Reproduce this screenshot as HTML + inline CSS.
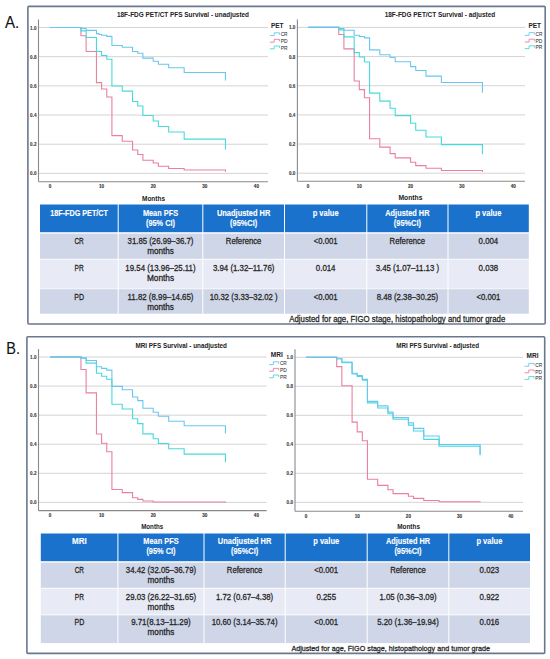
<!DOCTYPE html><html><head><meta charset="utf-8"><style>html,body{margin:0;padding:0;background:#fff;width:550px;height:659px;overflow:hidden}svg{display:block}</style></head><body>
<svg width="550" height="659" viewBox="0 0 550 659" font-family='"Liberation Sans", sans-serif'>
<rect width="550" height="659" fill="#fff"/>
<rect x="27.9" y="6.4" width="517.3" height="317.6" fill="none" stroke="#68788f" stroke-width="1.6" rx="1"/>
<rect x="26.9" y="336.8" width="517.8" height="316.6" fill="none" stroke="#68788f" stroke-width="1.6" rx="1"/>
<text x="4.9" y="27.8" font-size="15.76" fill="#111" stroke="#111" stroke-width="0.12" text-anchor="start" textLength="14.3" lengthAdjust="spacingAndGlyphs">A.</text>
<text x="6.3" y="354.2" font-size="15.76" fill="#111" stroke="#111" stroke-width="0.12" text-anchor="start" textLength="13.7" lengthAdjust="spacingAndGlyphs">B.</text>
<line x1="38.5" y1="173.4" x2="268" y2="173.4" stroke="#d4d4d4" stroke-width="1"/>
<text x="36.5" y="175.4" font-size="4.6" font-weight="bold" fill="#444" stroke="#444" stroke-width="0.12" text-anchor="end">0.0</text>
<line x1="38.5" y1="144.22" x2="268" y2="144.22" stroke="#d4d4d4" stroke-width="1"/>
<text x="36.5" y="146.22" font-size="4.6" font-weight="bold" fill="#444" stroke="#444" stroke-width="0.12" text-anchor="end">0.2</text>
<line x1="38.5" y1="115.04" x2="268" y2="115.04" stroke="#d4d4d4" stroke-width="1"/>
<text x="36.5" y="117.04" font-size="4.6" font-weight="bold" fill="#444" stroke="#444" stroke-width="0.12" text-anchor="end">0.4</text>
<line x1="38.5" y1="85.86" x2="268" y2="85.86" stroke="#d4d4d4" stroke-width="1"/>
<text x="36.5" y="87.86" font-size="4.6" font-weight="bold" fill="#444" stroke="#444" stroke-width="0.12" text-anchor="end">0.6</text>
<line x1="38.5" y1="56.68" x2="268" y2="56.68" stroke="#d4d4d4" stroke-width="1"/>
<text x="36.5" y="58.68" font-size="4.6" font-weight="bold" fill="#444" stroke="#444" stroke-width="0.12" text-anchor="end">0.8</text>
<line x1="38.5" y1="27.5" x2="268" y2="27.5" stroke="#d4d4d4" stroke-width="1"/>
<text x="36.5" y="29.5" font-size="4.6" font-weight="bold" fill="#444" stroke="#444" stroke-width="0.12" text-anchor="end">1.0</text>
<line x1="38.5" y1="19.5" x2="38.5" y2="181.7" stroke="#8a8a8a" stroke-width="1.1"/>
<line x1="38.5" y1="181.7" x2="268" y2="181.7" stroke="#8a8a8a" stroke-width="1.1"/>
<text x="50" y="188.3" font-size="4.6" font-weight="bold" fill="#3a3a3a" stroke="#3a3a3a" stroke-width="0.12" text-anchor="middle">0</text>
<text x="101.6" y="188.3" font-size="4.6" font-weight="bold" fill="#3a3a3a" stroke="#3a3a3a" stroke-width="0.12" text-anchor="middle">10</text>
<text x="153.2" y="188.3" font-size="4.6" font-weight="bold" fill="#3a3a3a" stroke="#3a3a3a" stroke-width="0.12" text-anchor="middle">20</text>
<text x="204.8" y="188.3" font-size="4.6" font-weight="bold" fill="#3a3a3a" stroke="#3a3a3a" stroke-width="0.12" text-anchor="middle">30</text>
<text x="256.4" y="188.3" font-size="4.6" font-weight="bold" fill="#3a3a3a" stroke="#3a3a3a" stroke-width="0.12" text-anchor="middle">40</text>
<text x="117" y="17.2" font-size="6.6" font-weight="bold" fill="#222" textLength="132" lengthAdjust="spacingAndGlyphs">18F-FDG PET/CT PFS Survival - unadjusted</text>
<text x="142" y="200.5" font-size="6.9" font-weight="bold" fill="#222" textLength="23" lengthAdjust="spacingAndGlyphs">Months</text>
<path d="M50,27.5 H80.96 V35.82 H86.12 V51.57 H96.44 V82.65 H99.02 V82.65 H101.6 V89.07 H106.76 V96.95 H111.92 V135.61 H122.24 V141.3 H132.56 V150.06 H137.72 V154.43 H142.88 V160.27 H153.2 V163.04 H158.36 V166.25 H168.68 V168.44 H184.16 V170.04 H225.44 V171.8" fill="none" stroke="#e9809f" stroke-width="1.1"/>
<path d="M50,27.5 H80.96 V30.86 H86.12 V37.57 H96.44 V51.57 H99.02 V51.57 H101.6 V55.51 H106.76 V59.31 H111.92 V86.01 H122.24 V91.11 H132.56 V101.47 H137.72 V105.99 H142.88 V115.48 H153.2 V121.02 H158.36 V126.57 H168.68 V131.96 H184.16 V139.11 H225.44 V149.47" fill="none" stroke="#48dada" stroke-width="1.1"/>
<path d="M50,27.5 H80.96 V28.52 H86.12 V30.42 H96.44 V33.63 H99.02 V34.5 H101.6 V35.23 H106.76 V36.4 H111.92 V45.45 H122.24 V47.2 H132.56 V51.43 H137.72 V53.32 H142.88 V58.14 H153.2 V61.2 H158.36 V64.27 H168.68 V67.77 H184.16 V72.44 H225.44 V80.46" fill="none" stroke="#68c7f1" stroke-width="1.1"/>
<text x="270.9" y="27.8" font-size="6.5" font-weight="bold" fill="#222">PET</text>
<path d="M269.9,35.6 H274.2 V32.8 H279.5 V34.7" fill="none" stroke="#68c7f1" stroke-width="0.9"/>
<text x="280.7" y="36.4" font-size="5.9" fill="#444" stroke="#444" stroke-width="0.1" textLength="6.8" lengthAdjust="spacingAndGlyphs">CR</text>
<path d="M269.9,42.2 H274.2 V39.4 H279.5 V41.3" fill="none" stroke="#e9809f" stroke-width="0.9"/>
<text x="280.7" y="43" font-size="5.9" fill="#444" stroke="#444" stroke-width="0.1" textLength="6.8" lengthAdjust="spacingAndGlyphs">PD</text>
<path d="M269.9,48.8 H274.2 V46 H279.5 V47.9" fill="none" stroke="#48dada" stroke-width="0.9"/>
<text x="280.7" y="49.6" font-size="5.9" fill="#444" stroke="#444" stroke-width="0.1" textLength="6.8" lengthAdjust="spacingAndGlyphs">PR</text>
<line x1="297.4" y1="173.2" x2="525" y2="173.2" stroke="#d4d4d4" stroke-width="1"/>
<text x="295.4" y="175.2" font-size="4.6" font-weight="bold" fill="#444" stroke="#444" stroke-width="0.12" text-anchor="end">0.0</text>
<line x1="297.4" y1="144.04" x2="525" y2="144.04" stroke="#d4d4d4" stroke-width="1"/>
<text x="295.4" y="146.04" font-size="4.6" font-weight="bold" fill="#444" stroke="#444" stroke-width="0.12" text-anchor="end">0.2</text>
<line x1="297.4" y1="114.88" x2="525" y2="114.88" stroke="#d4d4d4" stroke-width="1"/>
<text x="295.4" y="116.88" font-size="4.6" font-weight="bold" fill="#444" stroke="#444" stroke-width="0.12" text-anchor="end">0.4</text>
<line x1="297.4" y1="85.72" x2="525" y2="85.72" stroke="#d4d4d4" stroke-width="1"/>
<text x="295.4" y="87.72" font-size="4.6" font-weight="bold" fill="#444" stroke="#444" stroke-width="0.12" text-anchor="end">0.6</text>
<line x1="297.4" y1="56.56" x2="525" y2="56.56" stroke="#d4d4d4" stroke-width="1"/>
<text x="295.4" y="58.56" font-size="4.6" font-weight="bold" fill="#444" stroke="#444" stroke-width="0.12" text-anchor="end">0.8</text>
<line x1="297.4" y1="27.4" x2="525" y2="27.4" stroke="#d4d4d4" stroke-width="1"/>
<text x="295.4" y="29.4" font-size="4.6" font-weight="bold" fill="#444" stroke="#444" stroke-width="0.12" text-anchor="end">1.0</text>
<line x1="297.4" y1="19.6" x2="297.4" y2="181.3" stroke="#8a8a8a" stroke-width="1.1"/>
<line x1="297.4" y1="181.3" x2="525" y2="181.3" stroke="#8a8a8a" stroke-width="1.1"/>
<text x="308" y="187.9" font-size="4.6" font-weight="bold" fill="#3a3a3a" stroke="#3a3a3a" stroke-width="0.12" text-anchor="middle">0</text>
<text x="359.3" y="187.9" font-size="4.6" font-weight="bold" fill="#3a3a3a" stroke="#3a3a3a" stroke-width="0.12" text-anchor="middle">10</text>
<text x="410.6" y="187.9" font-size="4.6" font-weight="bold" fill="#3a3a3a" stroke="#3a3a3a" stroke-width="0.12" text-anchor="middle">20</text>
<text x="461.9" y="187.9" font-size="4.6" font-weight="bold" fill="#3a3a3a" stroke="#3a3a3a" stroke-width="0.12" text-anchor="middle">30</text>
<text x="513.2" y="187.9" font-size="4.6" font-weight="bold" fill="#3a3a3a" stroke="#3a3a3a" stroke-width="0.12" text-anchor="middle">40</text>
<text x="384.7" y="17.1" font-size="6.6" font-weight="bold" fill="#222" textLength="110.5" lengthAdjust="spacingAndGlyphs">18F-FDG PET/CT Survival - adjusted</text>
<text x="398.5" y="200.2" font-size="6.9" font-weight="bold" fill="#222" textLength="24" lengthAdjust="spacingAndGlyphs">Months</text>
<path d="M308,27.4 H338.78 V34.54 H343.91 V48.83 H354.17 V81.05 H359.3 V89.66 H364.43 V97.82 H369.56 V138.79 H379.82 V147.1 H390.08 V153.66 H395.21 V157.89 H410.6 V162.26 H415.73 V165.62 H425.99 V168.24 H441.38 V170.43 H482.42 V172.03" fill="none" stroke="#e9809f" stroke-width="1.1"/>
<path d="M308,27.4 H338.78 V29.88 H343.91 V36.88 H354.17 V52.62 H359.3 V57 H364.43 V61.95 H369.56 V93.16 H379.82 V101.17 H390.08 V108.32 H395.21 V115.61 H410.6 V123.19 H415.73 V130.19 H425.99 V137.04 H441.38 V144.62 H482.42 V154.25" fill="none" stroke="#48dada" stroke-width="1.1"/>
<path d="M308,27.4 H338.78 V28.57 H343.91 V30.32 H354.17 V35.27 H359.3 V36.44 H364.43 V37.9 H369.56 V49.85 H379.82 V54.81 H390.08 V57.43 H395.21 V61.81 H410.6 V66.62 H415.73 V70.56 H425.99 V76.1 H441.38 V82.51 H482.42 V92.72" fill="none" stroke="#68c7f1" stroke-width="1.1"/>
<text x="528.4" y="27.6" font-size="6.5" font-weight="bold" fill="#222">PET</text>
<path d="M524.8,35.4 H529.1 V32.6 H534.4 V34.5" fill="none" stroke="#68c7f1" stroke-width="0.9"/>
<text x="535.6" y="36.2" font-size="5.9" fill="#444" stroke="#444" stroke-width="0.1" textLength="6.8" lengthAdjust="spacingAndGlyphs">CR</text>
<path d="M524.8,42 H529.1 V39.2 H534.4 V41.1" fill="none" stroke="#e9809f" stroke-width="0.9"/>
<text x="535.6" y="42.8" font-size="5.9" fill="#444" stroke="#444" stroke-width="0.1" textLength="6.8" lengthAdjust="spacingAndGlyphs">PD</text>
<path d="M524.8,48.6 H529.1 V45.8 H534.4 V47.7" fill="none" stroke="#48dada" stroke-width="0.9"/>
<text x="535.6" y="49.4" font-size="5.9" fill="#444" stroke="#444" stroke-width="0.1" textLength="6.8" lengthAdjust="spacingAndGlyphs">PR</text>
<line x1="38.5" y1="502.4" x2="266.7" y2="502.4" stroke="#d4d4d4" stroke-width="1"/>
<text x="36.5" y="504.4" font-size="4.6" font-weight="bold" fill="#444" stroke="#444" stroke-width="0.12" text-anchor="end">0.0</text>
<line x1="38.5" y1="473.32" x2="266.7" y2="473.32" stroke="#d4d4d4" stroke-width="1"/>
<text x="36.5" y="475.32" font-size="4.6" font-weight="bold" fill="#444" stroke="#444" stroke-width="0.12" text-anchor="end">0.2</text>
<line x1="38.5" y1="444.24" x2="266.7" y2="444.24" stroke="#d4d4d4" stroke-width="1"/>
<text x="36.5" y="446.24" font-size="4.6" font-weight="bold" fill="#444" stroke="#444" stroke-width="0.12" text-anchor="end">0.4</text>
<line x1="38.5" y1="415.16" x2="266.7" y2="415.16" stroke="#d4d4d4" stroke-width="1"/>
<text x="36.5" y="417.16" font-size="4.6" font-weight="bold" fill="#444" stroke="#444" stroke-width="0.12" text-anchor="end">0.6</text>
<line x1="38.5" y1="386.08" x2="266.7" y2="386.08" stroke="#d4d4d4" stroke-width="1"/>
<text x="36.5" y="388.08" font-size="4.6" font-weight="bold" fill="#444" stroke="#444" stroke-width="0.12" text-anchor="end">0.8</text>
<line x1="38.5" y1="357" x2="266.7" y2="357" stroke="#d4d4d4" stroke-width="1"/>
<text x="36.5" y="359" font-size="4.6" font-weight="bold" fill="#444" stroke="#444" stroke-width="0.12" text-anchor="end">1.0</text>
<line x1="38.5" y1="349" x2="38.5" y2="510.6" stroke="#8a8a8a" stroke-width="1.1"/>
<line x1="38.5" y1="510.6" x2="266.7" y2="510.6" stroke="#8a8a8a" stroke-width="1.1"/>
<text x="50" y="517.2" font-size="4.6" font-weight="bold" fill="#3a3a3a" stroke="#3a3a3a" stroke-width="0.12" text-anchor="middle">0</text>
<text x="101.6" y="517.2" font-size="4.6" font-weight="bold" fill="#3a3a3a" stroke="#3a3a3a" stroke-width="0.12" text-anchor="middle">10</text>
<text x="153.2" y="517.2" font-size="4.6" font-weight="bold" fill="#3a3a3a" stroke="#3a3a3a" stroke-width="0.12" text-anchor="middle">20</text>
<text x="204.8" y="517.2" font-size="4.6" font-weight="bold" fill="#3a3a3a" stroke="#3a3a3a" stroke-width="0.12" text-anchor="middle">30</text>
<text x="256.4" y="517.2" font-size="4.6" font-weight="bold" fill="#3a3a3a" stroke="#3a3a3a" stroke-width="0.12" text-anchor="middle">40</text>
<text x="135.5" y="347.8" font-size="6.6" font-weight="bold" fill="#222" textLength="91.5" lengthAdjust="spacingAndGlyphs">MRI PFS Survival - unadjusted</text>
<text x="141.2" y="529" font-size="6.9" font-weight="bold" fill="#222" textLength="22" lengthAdjust="spacingAndGlyphs">Months</text>
<path d="M50,357 H80.96 V369.5 H86.12 V392.91 H96.44 V434.06 H101.6 V443.22 H106.76 V451.8 H111.92 V489.46 H122.24 V492.66 H132.56 V497.75 H137.72 V499.35 H142.88 V500.95 H153.2 V501.96 H158.36 V501.96 H168.68 V501.96 H184.16 V501.96 H225.44 V502.4" fill="none" stroke="#e9809f" stroke-width="1.1"/>
<path d="M50,357 H80.96 V358.16 H86.12 V363.11 H96.44 V373.28 H101.6 V376.19 H106.76 V379.25 H111.92 V404.25 H122.24 V409.05 H132.56 V418.8 H137.72 V423.59 H142.88 V433.92 H153.2 V438.71 H158.36 V443.51 H168.68 V448.75 H184.16 V454.13 H225.44 V462.27" fill="none" stroke="#48dada" stroke-width="1.1"/>
<path d="M50,357 H80.96 V357.73 H86.12 V360.49 H96.44 V366.74 H101.6 V368.34 H106.76 V370.09 H111.92 V386.37 H122.24 V389.71 H132.56 V396.99 H137.72 V400.62 H142.88 V408.18 H153.2 V412.25 H158.36 V416.32 H168.68 V421.27 H184.16 V425.77 H225.44 V433.48" fill="none" stroke="#68c7f1" stroke-width="1.1"/>
<text x="270.8" y="356.8" font-size="6.5" font-weight="bold" fill="#222">MRI</text>
<path d="M269.1,364.6 H273.4 V361.8 H278.7 V363.7" fill="none" stroke="#68c7f1" stroke-width="0.9"/>
<text x="279.9" y="365.4" font-size="5.9" fill="#444" stroke="#444" stroke-width="0.1" textLength="6.8" lengthAdjust="spacingAndGlyphs">CR</text>
<path d="M269.1,371.2 H273.4 V368.4 H278.7 V370.3" fill="none" stroke="#e9809f" stroke-width="0.9"/>
<text x="279.9" y="372" font-size="5.9" fill="#444" stroke="#444" stroke-width="0.1" textLength="6.8" lengthAdjust="spacingAndGlyphs">PD</text>
<path d="M269.1,377.8 H273.4 V375 H278.7 V376.9" fill="none" stroke="#48dada" stroke-width="0.9"/>
<text x="279.9" y="378.6" font-size="5.9" fill="#444" stroke="#444" stroke-width="0.1" textLength="6.8" lengthAdjust="spacingAndGlyphs">PR</text>
<line x1="295" y1="502.3" x2="523" y2="502.3" stroke="#d4d4d4" stroke-width="1"/>
<text x="293" y="504.3" font-size="4.6" font-weight="bold" fill="#444" stroke="#444" stroke-width="0.12" text-anchor="end">0.0</text>
<line x1="295" y1="473.3" x2="523" y2="473.3" stroke="#d4d4d4" stroke-width="1"/>
<text x="293" y="475.3" font-size="4.6" font-weight="bold" fill="#444" stroke="#444" stroke-width="0.12" text-anchor="end">0.2</text>
<line x1="295" y1="444.3" x2="523" y2="444.3" stroke="#d4d4d4" stroke-width="1"/>
<text x="293" y="446.3" font-size="4.6" font-weight="bold" fill="#444" stroke="#444" stroke-width="0.12" text-anchor="end">0.4</text>
<line x1="295" y1="415.3" x2="523" y2="415.3" stroke="#d4d4d4" stroke-width="1"/>
<text x="293" y="417.3" font-size="4.6" font-weight="bold" fill="#444" stroke="#444" stroke-width="0.12" text-anchor="end">0.6</text>
<line x1="295" y1="386.3" x2="523" y2="386.3" stroke="#d4d4d4" stroke-width="1"/>
<text x="293" y="388.3" font-size="4.6" font-weight="bold" fill="#444" stroke="#444" stroke-width="0.12" text-anchor="end">0.8</text>
<line x1="295" y1="357.3" x2="523" y2="357.3" stroke="#d4d4d4" stroke-width="1"/>
<text x="293" y="359.3" font-size="4.6" font-weight="bold" fill="#444" stroke="#444" stroke-width="0.12" text-anchor="end">1.0</text>
<line x1="295" y1="349.3" x2="295" y2="511.3" stroke="#8a8a8a" stroke-width="1.1"/>
<line x1="295" y1="511.3" x2="523" y2="511.3" stroke="#8a8a8a" stroke-width="1.1"/>
<text x="306" y="517.9" font-size="4.6" font-weight="bold" fill="#3a3a3a" stroke="#3a3a3a" stroke-width="0.12" text-anchor="middle">0</text>
<text x="357.2" y="517.9" font-size="4.6" font-weight="bold" fill="#3a3a3a" stroke="#3a3a3a" stroke-width="0.12" text-anchor="middle">10</text>
<text x="408.4" y="517.9" font-size="4.6" font-weight="bold" fill="#3a3a3a" stroke="#3a3a3a" stroke-width="0.12" text-anchor="middle">20</text>
<text x="459.6" y="517.9" font-size="4.6" font-weight="bold" fill="#3a3a3a" stroke="#3a3a3a" stroke-width="0.12" text-anchor="middle">30</text>
<text x="510.8" y="517.9" font-size="4.6" font-weight="bold" fill="#3a3a3a" stroke="#3a3a3a" stroke-width="0.12" text-anchor="middle">40</text>
<text x="396.2" y="347.8" font-size="6.6" font-weight="bold" fill="#222" textLength="82.8" lengthAdjust="spacingAndGlyphs">MRI PFS Survival - adjusted</text>
<text x="397.2" y="529" font-size="6.9" font-weight="bold" fill="#222" textLength="22.8" lengthAdjust="spacingAndGlyphs">Months</text>
<path d="M306,357.3 H336.72 V366.58 H341.84 V385.72 H352.08 V422.12 H357.2 V431.83 H362.32 V440.68 H367.44 V479.25 H377.68 V485.34 H387.92 V489.69 H393.04 V493.6 H408.4 V496.21 H413.52 V498.38 H423.76 V500.56 H439.12 V501.72 H480.08 V502.3" fill="none" stroke="#e9809f" stroke-width="1.1"/>
<path d="M306,357.3 H336.72 V358.75 H341.84 V362.81 H352.08 V373.98 H357.2 V376.44 H362.32 V380.21 H367.44 V402.83 H377.68 V408.05 H387.92 V413.71 H393.04 V419.22 H408.4 V425.16 H413.52 V430.96 H423.76 V439.37 H439.12 V446.19 H480.08 V454.45" fill="none" stroke="#48dada" stroke-width="1.1"/>
<path d="M306,357.3 H336.72 V358.75 H341.84 V362.09 H352.08 V373.25 H357.2 V375.57 H362.32 V379.34 H367.44 V401.38 H377.68 V405.88 H387.92 V412.11 H393.04 V417.62 H408.4 V422.84 H413.52 V428.35 H423.76 V436.04 H439.12 V444.59 H480.08 V455.18" fill="none" stroke="#68c7f1" stroke-width="1.1"/>
<text x="526.6" y="357.7" font-size="6.5" font-weight="bold" fill="#222">MRI</text>
<path d="M524.5,366.2 H528.8 V363.4 H534.1 V365.3" fill="none" stroke="#68c7f1" stroke-width="0.9"/>
<text x="535.3" y="367" font-size="5.9" fill="#444" stroke="#444" stroke-width="0.1" textLength="6.8" lengthAdjust="spacingAndGlyphs">CR</text>
<path d="M524.5,372.8 H528.8 V370 H534.1 V371.9" fill="none" stroke="#e9809f" stroke-width="0.9"/>
<text x="535.3" y="373.6" font-size="5.9" fill="#444" stroke="#444" stroke-width="0.1" textLength="6.8" lengthAdjust="spacingAndGlyphs">PD</text>
<path d="M524.5,379.4 H528.8 V376.6 H534.1 V378.5" fill="none" stroke="#48dada" stroke-width="0.9"/>
<text x="535.3" y="380.2" font-size="5.9" fill="#444" stroke="#444" stroke-width="0.1" textLength="6.8" lengthAdjust="spacingAndGlyphs">PR</text>
<rect x="40" y="204.5" width="77.7" height="27.7" fill="#1a72cc"/>
<rect x="118.7" y="204.5" width="83.6" height="27.7" fill="#1a72cc"/>
<rect x="203.3" y="204.5" width="80.7" height="27.7" fill="#1a72cc"/>
<rect x="285" y="204.5" width="81.3" height="27.7" fill="#1a72cc"/>
<rect x="367.3" y="204.5" width="80.2" height="27.7" fill="#1a72cc"/>
<rect x="448.5" y="204.5" width="80.3" height="27.7" fill="#1a72cc"/>
<rect x="40" y="233.6" width="77.7" height="25.2" fill="#cfd6e8"/>
<rect x="118.7" y="233.6" width="83.6" height="25.2" fill="#cfd6e8"/>
<rect x="203.3" y="233.6" width="80.7" height="25.2" fill="#cfd6e8"/>
<rect x="285" y="233.6" width="81.3" height="25.2" fill="#cfd6e8"/>
<rect x="367.3" y="233.6" width="80.2" height="25.2" fill="#cfd6e8"/>
<rect x="448.5" y="233.6" width="80.3" height="25.2" fill="#cfd6e8"/>
<rect x="40" y="259.6" width="77.7" height="29" fill="#e8ebf5"/>
<rect x="118.7" y="259.6" width="83.6" height="29" fill="#e8ebf5"/>
<rect x="203.3" y="259.6" width="80.7" height="29" fill="#e8ebf5"/>
<rect x="285" y="259.6" width="81.3" height="29" fill="#e8ebf5"/>
<rect x="367.3" y="259.6" width="80.2" height="29" fill="#e8ebf5"/>
<rect x="448.5" y="259.6" width="80.3" height="29" fill="#e8ebf5"/>
<rect x="40" y="289.2" width="77.7" height="24.5" fill="#cfd6e8"/>
<rect x="118.7" y="289.2" width="83.6" height="24.5" fill="#cfd6e8"/>
<rect x="203.3" y="289.2" width="80.7" height="24.5" fill="#cfd6e8"/>
<rect x="285" y="289.2" width="81.3" height="24.5" fill="#cfd6e8"/>
<rect x="367.3" y="289.2" width="80.2" height="24.5" fill="#cfd6e8"/>
<rect x="448.5" y="289.2" width="80.3" height="24.5" fill="#cfd6e8"/>
<text x="79.1" y="215.9" font-size="8.74" font-weight="bold" fill="#fff" stroke="#fff" stroke-width="0.12" text-anchor="middle" textLength="57.63" lengthAdjust="spacingAndGlyphs">18F-FDG PET/CT</text>
<text x="160.5" y="215.9" font-size="8.74" font-weight="bold" fill="#fff" stroke="#fff" stroke-width="0.12" text-anchor="middle" textLength="35.24" lengthAdjust="spacingAndGlyphs">Mean PFS</text>
<text x="160.5" y="225.9" font-size="8.74" font-weight="bold" fill="#fff" stroke="#fff" stroke-width="0.12" text-anchor="middle" textLength="29.13" lengthAdjust="spacingAndGlyphs">(95% CI)</text>
<text x="243.65" y="215.9" font-size="8.74" font-weight="bold" fill="#fff" stroke="#fff" stroke-width="0.12" text-anchor="middle" textLength="53.47" lengthAdjust="spacingAndGlyphs">Unadjusted HR</text>
<text x="243.65" y="225.9" font-size="8.74" font-weight="bold" fill="#fff" stroke="#fff" stroke-width="0.12" text-anchor="middle" textLength="27.19" lengthAdjust="spacingAndGlyphs">(95%CI)</text>
<text x="325.65" y="215.9" font-size="8.74" font-weight="bold" fill="#fff" stroke="#fff" stroke-width="0.12" text-anchor="middle" textLength="25.93" lengthAdjust="spacingAndGlyphs">p value</text>
<text x="407.4" y="215.9" font-size="8.74" font-weight="bold" fill="#fff" stroke="#fff" stroke-width="0.12" text-anchor="middle" textLength="44.21" lengthAdjust="spacingAndGlyphs">Adjusted HR</text>
<text x="407.4" y="225.9" font-size="8.74" font-weight="bold" fill="#fff" stroke="#fff" stroke-width="0.12" text-anchor="middle" textLength="27.19" lengthAdjust="spacingAndGlyphs">(95%CI)</text>
<text x="488.4" y="215.9" font-size="8.74" font-weight="bold" fill="#fff" stroke="#fff" stroke-width="0.12" text-anchor="middle" textLength="25.93" lengthAdjust="spacingAndGlyphs">p value</text>
<text x="79.1" y="244.2" font-size="8.74" fill="#262626" stroke="#262626" stroke-width="0.28" text-anchor="middle" textLength="9.26" lengthAdjust="spacingAndGlyphs">CR</text>
<text x="160.5" y="244.2" font-size="8.74" fill="#262626" stroke="#262626" stroke-width="0.28" text-anchor="middle" textLength="65.9" lengthAdjust="spacingAndGlyphs">31.85 (26.99–36.7)</text>
<text x="160.5" y="254.2" font-size="8.74" fill="#262626" stroke="#262626" stroke-width="0.28" text-anchor="middle" textLength="26.69" lengthAdjust="spacingAndGlyphs">months</text>
<text x="243.65" y="244.2" font-size="8.74" fill="#262626" stroke="#262626" stroke-width="0.28" text-anchor="middle" textLength="35.56" lengthAdjust="spacingAndGlyphs">Reference</text>
<text x="325.65" y="244.2" font-size="8.74" fill="#262626" stroke="#262626" stroke-width="0.28" text-anchor="middle" textLength="23.89" lengthAdjust="spacingAndGlyphs">&lt;0.001</text>
<text x="407.4" y="244.2" font-size="8.74" fill="#262626" stroke="#262626" stroke-width="0.28" text-anchor="middle" textLength="35.56" lengthAdjust="spacingAndGlyphs">Reference</text>
<text x="488.4" y="244.2" font-size="8.74" fill="#262626" stroke="#262626" stroke-width="0.28" text-anchor="middle" textLength="19.61" lengthAdjust="spacingAndGlyphs">0.004</text>
<text x="79.1" y="270.8" font-size="8.74" fill="#262626" stroke="#262626" stroke-width="0.28" text-anchor="middle" textLength="9.11" lengthAdjust="spacingAndGlyphs">PR</text>
<text x="160.5" y="270.8" font-size="8.74" fill="#262626" stroke="#262626" stroke-width="0.28" text-anchor="middle" textLength="70.26" lengthAdjust="spacingAndGlyphs">19.54 (13.96–25.11)</text>
<text x="160.5" y="280.8" font-size="8.74" fill="#262626" stroke="#262626" stroke-width="0.28" text-anchor="middle" textLength="27.17" lengthAdjust="spacingAndGlyphs">Months</text>
<text x="243.65" y="270.8" font-size="8.74" fill="#262626" stroke="#262626" stroke-width="0.28" text-anchor="middle" textLength="61.54" lengthAdjust="spacingAndGlyphs">3.94 (1.32–11.76)</text>
<text x="325.65" y="270.8" font-size="8.74" fill="#262626" stroke="#262626" stroke-width="0.28" text-anchor="middle" textLength="19.61" lengthAdjust="spacingAndGlyphs">0.014</text>
<text x="407.4" y="270.8" font-size="8.74" fill="#262626" stroke="#262626" stroke-width="0.28" text-anchor="middle" textLength="63.49" lengthAdjust="spacingAndGlyphs">3.45 (1.07–11.13 )</text>
<text x="488.4" y="270.8" font-size="8.74" fill="#262626" stroke="#262626" stroke-width="0.28" text-anchor="middle" textLength="19.61" lengthAdjust="spacingAndGlyphs">0.038</text>
<text x="79.1" y="299.6" font-size="8.74" fill="#262626" stroke="#262626" stroke-width="0.28" text-anchor="middle" textLength="9.73" lengthAdjust="spacingAndGlyphs">PD</text>
<text x="160.5" y="299.6" font-size="8.74" fill="#262626" stroke="#262626" stroke-width="0.28" text-anchor="middle" textLength="65.9" lengthAdjust="spacingAndGlyphs">11.82 (8.99–14.65)</text>
<text x="160.5" y="309.6" font-size="8.74" fill="#262626" stroke="#262626" stroke-width="0.28" text-anchor="middle" textLength="26.69" lengthAdjust="spacingAndGlyphs">months</text>
<text x="243.65" y="299.6" font-size="8.74" fill="#262626" stroke="#262626" stroke-width="0.28" text-anchor="middle" textLength="67.85" lengthAdjust="spacingAndGlyphs">10.32 (3.33–32.02 )</text>
<text x="325.65" y="299.6" font-size="8.74" fill="#262626" stroke="#262626" stroke-width="0.28" text-anchor="middle" textLength="23.89" lengthAdjust="spacingAndGlyphs">&lt;0.001</text>
<text x="407.4" y="299.6" font-size="8.74" fill="#262626" stroke="#262626" stroke-width="0.28" text-anchor="middle" textLength="61.54" lengthAdjust="spacingAndGlyphs">8.48 (2.38–30.25)</text>
<text x="488.4" y="299.6" font-size="8.74" fill="#262626" stroke="#262626" stroke-width="0.28" text-anchor="middle" textLength="23.89" lengthAdjust="spacingAndGlyphs">&lt;0.001</text>
<text x="289.3" y="322.1" font-size="8.71" fill="#262626" stroke="#262626" stroke-width="0.28" text-anchor="start" textLength="215.95" lengthAdjust="spacingAndGlyphs">Adjusted for age, FIGO stage, histopathology and tumor grade</text>
<rect x="40.8" y="533.5" width="76.6" height="27.7" fill="#1a72cc"/>
<rect x="118.4" y="533.5" width="85.1" height="27.7" fill="#1a72cc"/>
<rect x="204.5" y="533.5" width="80.2" height="27.7" fill="#1a72cc"/>
<rect x="285.7" y="533.5" width="81" height="27.7" fill="#1a72cc"/>
<rect x="367.7" y="533.5" width="80.6" height="27.7" fill="#1a72cc"/>
<rect x="449.3" y="533.5" width="80.7" height="27.7" fill="#1a72cc"/>
<rect x="40.8" y="562.6" width="76.6" height="25.2" fill="#cfd6e8"/>
<rect x="118.4" y="562.6" width="85.1" height="25.2" fill="#cfd6e8"/>
<rect x="204.5" y="562.6" width="80.2" height="25.2" fill="#cfd6e8"/>
<rect x="285.7" y="562.6" width="81" height="25.2" fill="#cfd6e8"/>
<rect x="367.7" y="562.6" width="80.6" height="25.2" fill="#cfd6e8"/>
<rect x="449.3" y="562.6" width="80.7" height="25.2" fill="#cfd6e8"/>
<rect x="40.8" y="588.7" width="76.6" height="25.7" fill="#e8ebf5"/>
<rect x="118.4" y="588.7" width="85.1" height="25.7" fill="#e8ebf5"/>
<rect x="204.5" y="588.7" width="80.2" height="25.7" fill="#e8ebf5"/>
<rect x="285.7" y="588.7" width="81" height="25.7" fill="#e8ebf5"/>
<rect x="367.7" y="588.7" width="80.6" height="25.7" fill="#e8ebf5"/>
<rect x="449.3" y="588.7" width="80.7" height="25.7" fill="#e8ebf5"/>
<rect x="40.8" y="615.3" width="76.6" height="27.8" fill="#cfd6e8"/>
<rect x="118.4" y="615.3" width="85.1" height="27.8" fill="#cfd6e8"/>
<rect x="204.5" y="615.3" width="80.2" height="27.8" fill="#cfd6e8"/>
<rect x="285.7" y="615.3" width="81" height="27.8" fill="#cfd6e8"/>
<rect x="367.7" y="615.3" width="80.6" height="27.8" fill="#cfd6e8"/>
<rect x="449.3" y="615.3" width="80.7" height="27.8" fill="#cfd6e8"/>
<text x="79.35" y="544.3" font-size="8.74" font-weight="bold" fill="#fff" stroke="#fff" stroke-width="0.12" text-anchor="middle" textLength="14.65" lengthAdjust="spacingAndGlyphs">MRI</text>
<text x="160.95" y="544.3" font-size="8.74" font-weight="bold" fill="#fff" stroke="#fff" stroke-width="0.12" text-anchor="middle" textLength="35.24" lengthAdjust="spacingAndGlyphs">Mean PFS</text>
<text x="160.95" y="554.3" font-size="8.74" font-weight="bold" fill="#fff" stroke="#fff" stroke-width="0.12" text-anchor="middle" textLength="29.13" lengthAdjust="spacingAndGlyphs">(95% CI)</text>
<text x="244.6" y="544.3" font-size="8.74" font-weight="bold" fill="#fff" stroke="#fff" stroke-width="0.12" text-anchor="middle" textLength="53.47" lengthAdjust="spacingAndGlyphs">Unadjusted HR</text>
<text x="244.6" y="554.3" font-size="8.74" font-weight="bold" fill="#fff" stroke="#fff" stroke-width="0.12" text-anchor="middle" textLength="27.19" lengthAdjust="spacingAndGlyphs">(95%CI)</text>
<text x="326.2" y="544.3" font-size="8.74" font-weight="bold" fill="#fff" stroke="#fff" stroke-width="0.12" text-anchor="middle" textLength="25.93" lengthAdjust="spacingAndGlyphs">p value</text>
<text x="408" y="544.3" font-size="8.74" font-weight="bold" fill="#fff" stroke="#fff" stroke-width="0.12" text-anchor="middle" textLength="44.21" lengthAdjust="spacingAndGlyphs">Adjusted HR</text>
<text x="408" y="554.3" font-size="8.74" font-weight="bold" fill="#fff" stroke="#fff" stroke-width="0.12" text-anchor="middle" textLength="27.19" lengthAdjust="spacingAndGlyphs">(95%CI)</text>
<text x="489.4" y="544.3" font-size="8.74" font-weight="bold" fill="#fff" stroke="#fff" stroke-width="0.12" text-anchor="middle" textLength="25.93" lengthAdjust="spacingAndGlyphs">p value</text>
<text x="79.35" y="572.9" font-size="8.74" fill="#262626" stroke="#262626" stroke-width="0.28" text-anchor="middle" textLength="9.26" lengthAdjust="spacingAndGlyphs">CR</text>
<text x="160.95" y="572.9" font-size="8.74" fill="#262626" stroke="#262626" stroke-width="0.28" text-anchor="middle" textLength="70.26" lengthAdjust="spacingAndGlyphs">34.42 (32.05–36.79)</text>
<text x="160.95" y="582.9" font-size="8.74" fill="#262626" stroke="#262626" stroke-width="0.28" text-anchor="middle" textLength="26.69" lengthAdjust="spacingAndGlyphs">months</text>
<text x="244.6" y="572.9" font-size="8.74" fill="#262626" stroke="#262626" stroke-width="0.28" text-anchor="middle" textLength="35.56" lengthAdjust="spacingAndGlyphs">Reference</text>
<text x="326.2" y="572.9" font-size="8.74" fill="#262626" stroke="#262626" stroke-width="0.28" text-anchor="middle" textLength="23.89" lengthAdjust="spacingAndGlyphs">&lt;0.001</text>
<text x="408" y="572.9" font-size="8.74" fill="#262626" stroke="#262626" stroke-width="0.28" text-anchor="middle" textLength="35.56" lengthAdjust="spacingAndGlyphs">Reference</text>
<text x="489.4" y="572.9" font-size="8.74" fill="#262626" stroke="#262626" stroke-width="0.28" text-anchor="middle" textLength="19.61" lengthAdjust="spacingAndGlyphs">0.023</text>
<text x="79.35" y="599.5" font-size="8.74" fill="#262626" stroke="#262626" stroke-width="0.28" text-anchor="middle" textLength="9.11" lengthAdjust="spacingAndGlyphs">PR</text>
<text x="160.95" y="599.5" font-size="8.74" fill="#262626" stroke="#262626" stroke-width="0.28" text-anchor="middle" textLength="70.26" lengthAdjust="spacingAndGlyphs">29.03 (26.22–31.65)</text>
<text x="160.95" y="609.5" font-size="8.74" fill="#262626" stroke="#262626" stroke-width="0.28" text-anchor="middle" textLength="26.69" lengthAdjust="spacingAndGlyphs">months</text>
<text x="244.6" y="599.5" font-size="8.74" fill="#262626" stroke="#262626" stroke-width="0.28" text-anchor="middle" textLength="57.18" lengthAdjust="spacingAndGlyphs">1.72 (0.67–4.38)</text>
<text x="326.2" y="599.5" font-size="8.74" fill="#262626" stroke="#262626" stroke-width="0.28" text-anchor="middle" textLength="19.61" lengthAdjust="spacingAndGlyphs">0.255</text>
<text x="408" y="599.5" font-size="8.74" fill="#262626" stroke="#262626" stroke-width="0.28" text-anchor="middle" textLength="57.18" lengthAdjust="spacingAndGlyphs">1.05 (0.36–3.09)</text>
<text x="489.4" y="599.5" font-size="8.74" fill="#262626" stroke="#262626" stroke-width="0.28" text-anchor="middle" textLength="19.61" lengthAdjust="spacingAndGlyphs">0.922</text>
<text x="79.35" y="625.3" font-size="8.74" fill="#262626" stroke="#262626" stroke-width="0.28" text-anchor="middle" textLength="9.73" lengthAdjust="spacingAndGlyphs">PD</text>
<text x="160.95" y="625.3" font-size="8.74" fill="#262626" stroke="#262626" stroke-width="0.28" text-anchor="middle" textLength="59.6" lengthAdjust="spacingAndGlyphs">9.71(8.13–11.29)</text>
<text x="160.95" y="635.3" font-size="8.74" fill="#262626" stroke="#262626" stroke-width="0.28" text-anchor="middle" textLength="26.69" lengthAdjust="spacingAndGlyphs">months</text>
<text x="244.6" y="625.3" font-size="8.74" fill="#262626" stroke="#262626" stroke-width="0.28" text-anchor="middle" textLength="65.9" lengthAdjust="spacingAndGlyphs">10.60 (3.14–35.74)</text>
<text x="326.2" y="625.3" font-size="8.74" fill="#262626" stroke="#262626" stroke-width="0.28" text-anchor="middle" textLength="23.89" lengthAdjust="spacingAndGlyphs">&lt;0.001</text>
<text x="408" y="625.3" font-size="8.74" fill="#262626" stroke="#262626" stroke-width="0.28" text-anchor="middle" textLength="61.54" lengthAdjust="spacingAndGlyphs">5.20 (1.36–19.94)</text>
<text x="489.4" y="625.3" font-size="8.74" fill="#262626" stroke="#262626" stroke-width="0.28" text-anchor="middle" textLength="19.61" lengthAdjust="spacingAndGlyphs">0.016</text>
<text x="291.4" y="650.9" font-size="8.01" fill="#262626" stroke="#262626" stroke-width="0.28" text-anchor="start" textLength="198.56" lengthAdjust="spacingAndGlyphs">Adjusted for age, FIGO stage, histopathology and tumor grade</text>
</svg></body></html>
